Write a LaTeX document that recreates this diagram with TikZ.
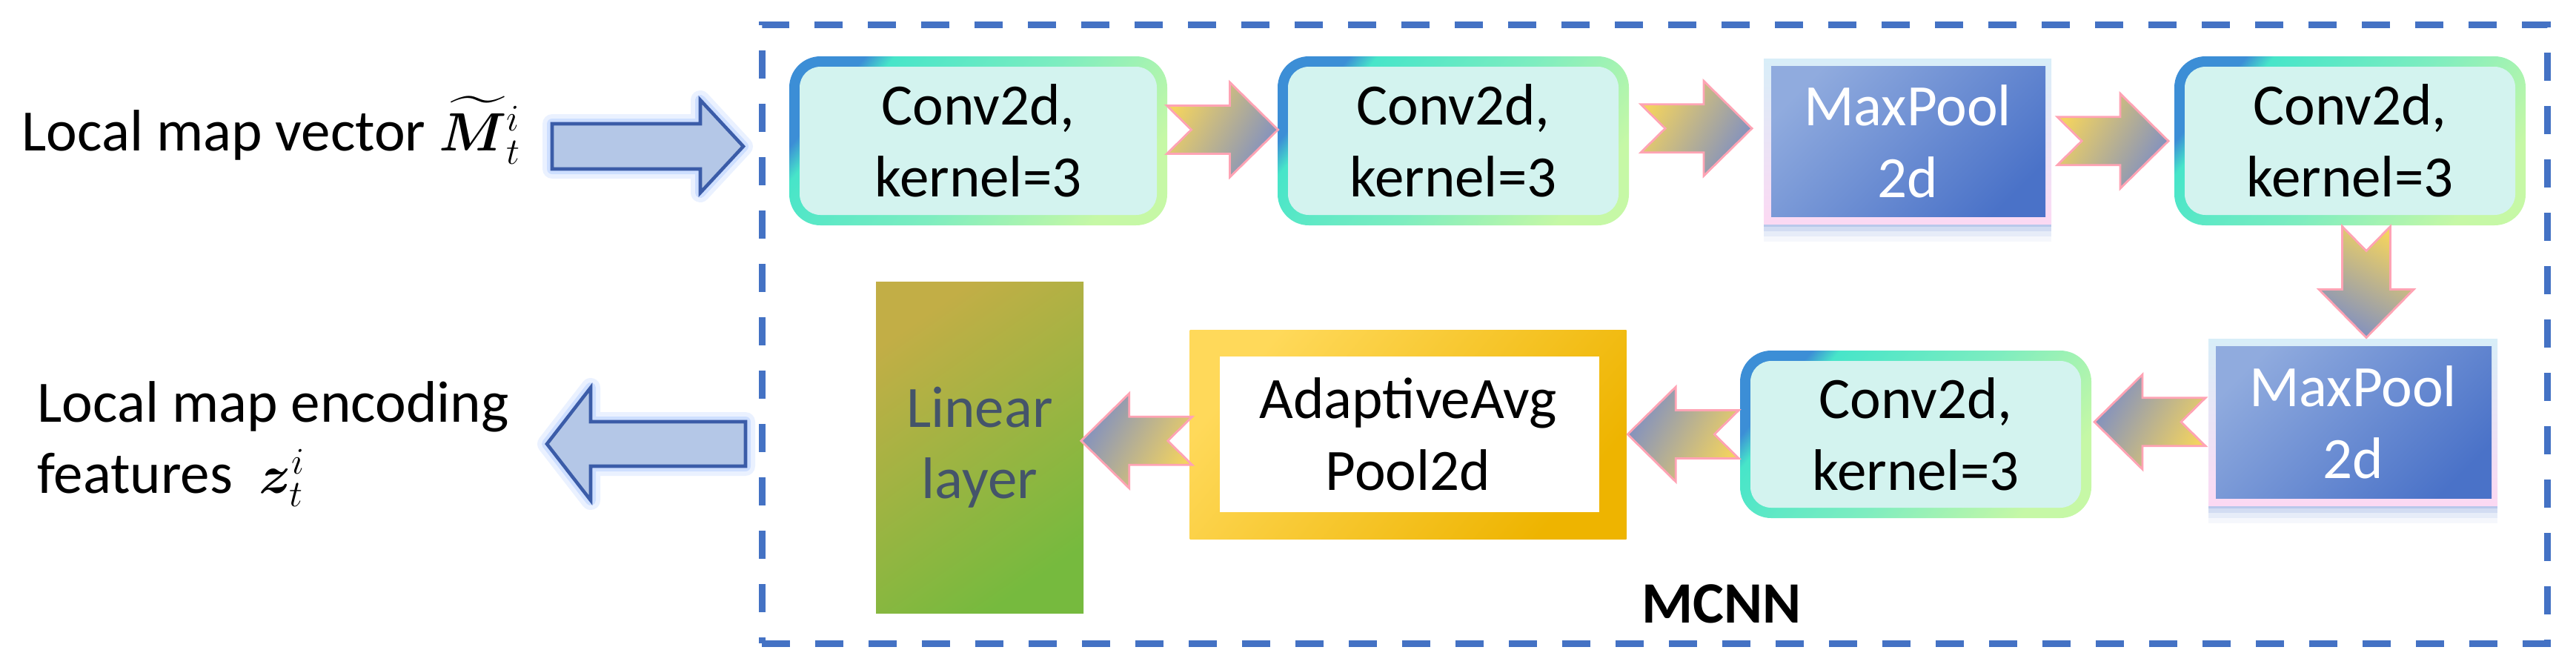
\documentclass[tikz,border=0pt]{standalone}
\usepackage{fontspec}
\setmainfont{Carlito}
\usepackage{amsmath,bm}
\usetikzlibrary{calc,shadows}

\definecolor{frameblue}{HTML}{4472C4}
\definecolor{convfill}{HTML}{D3F3EF}
\definecolor{rimblue}{HTML}{3C8ED6}
\definecolor{rimteal}{HTML}{47E5C9}
\definecolor{rimmid}{HTML}{7DEDC0}
\definecolor{rimgreen}{HTML}{C6F8A6}
\definecolor{flowyel}{HTML}{F3D35F}
\definecolor{flowblue}{HTML}{7F8FC2}
\definecolor{flowpink}{HTML}{FFA3B4}
\definecolor{mprimtop}{HTML}{D8EEF8}
\definecolor{mprimbot}{HTML}{FCD9F3}
\definecolor{mpin1}{HTML}{90ABDE}
\definecolor{mpin2}{HTML}{4A72C8}
\definecolor{mpshadow}{HTML}{7F9BDA}
\definecolor{adA}{HTML}{FFD95A}
\definecolor{adB}{HTML}{EEB400}
\definecolor{linA}{HTML}{C2AE46}
\definecolor{linB}{HTML}{76BA3E}
\definecolor{lintext}{HTML}{44546A}
\definecolor{bigfill}{HTML}{B4C7E7}
\definecolor{bigedge}{HTML}{3B5CA8}
\definecolor{glowblue}{HTML}{8DB3FF}

\pgfdeclarehorizontalshading{convrim}{100bp}{color(0bp)=(rimblue); color(25bp)=(rimblue); color(29bp)=(rimteal); color(52bp)=(rimmid); color(75bp)=(rimgreen); color(100bp)=(rimgreen)}

\tikzset{
  txt/.style={font=\fontsize{22.5}{27.5}\selectfont},
  convbox/.style={txt, align=center, inner sep=0pt, rounded corners=0.42cm,
    minimum width=4.74cm, minimum height=2.28cm, shading=convrim, shading angle=-40,
    path picture={\fill[convfill, rounded corners=0.28cm]
      ($(path picture bounding box.north west)+(0.14,-0.14)$) rectangle
      ($(path picture bounding box.south east)+(-0.14,0.14)$);}},
  mpbox/.style={txt, text=white, align=center, inner sep=0pt,
    minimum width=3.88cm, minimum height=2.23cm,
    drop shadow={shadow xshift=0cm, shadow yshift=-0.24cm, fill=mpshadow, opacity=0.08},
    drop shadow={shadow xshift=0cm, shadow yshift=-0.17cm, fill=mpshadow, opacity=0.12},
    drop shadow={shadow xshift=0cm, shadow yshift=-0.10cm, fill=mpshadow, opacity=0.2},
    drop shadow={shadow xshift=0cm, shadow yshift=-0.04cm, fill=mpshadow, opacity=0.3},
    top color=mprimtop, bottom color=mprimbot,
    path picture={\shade[top color=mpin1, bottom color=mpin2, shading angle=45]
      ($(path picture bounding box.north west)+(0.1,-0.1)$) rectangle
      ($(path picture bounding box.south east)+(-0.08,0.1)$);}},
  adbox/.style={txt, align=center, inner sep=0pt,
    minimum width=5.89cm, minimum height=2.82cm,
    top color=adA, bottom color=adB, shading angle=50,
    path picture={\fill[white]
      ($(path picture bounding box.north west)+(0.40,-0.36)$) rectangle
      ($(path picture bounding box.south east)+(-0.37,0.36)$);}},
  linbox/.style={txt, text=lintext, align=center, inner sep=0pt,
    minimum width=2.8cm, minimum height=4.47cm,
    top color=linA, bottom color=linB, shading angle=35},
  flow/.style={draw=flowpink, line width=0.8pt, top color=flowyel, bottom color=flowblue},
  bigarrow/.style={fill=bigfill, draw=bigedge, line width=1.3pt,
    preaction={draw=glowblue, draw opacity=0.18, line width=0.26cm, line join=round},
    preaction={draw=glowblue, draw opacity=0.3, line width=0.14cm, line join=round}},
  mcnnframe/.style={draw=frameblue, line width=0.09cm, dash pattern=on 0.38cm off 0.34cm,
    minimum width=24.09cm, minimum height=8.35cm, inner sep=0pt},
}

% notched block arrow halfway between two anchors, drawn in its own axes
\newcommand{\flowarrow}[4]{%
  \path[flow, #3, shading angle=#4] ($(#1)!0.5!(#2)$) ++(-0.75,0.325)
    -- ++(0.85,0) -- ++(0,0.315) -- ++(0.65,-0.64) -- ++(-0.65,-0.64)
    -- ++(0,0.315) -- ++(-0.85,0) -- ++(0.33,0.325) -- cycle;}

\begin{document}
\begin{tikzpicture}
  \useasboundingbox (0,0) rectangle (34.76,-9.03);

  % MCNN frame
  \node[mcnnframe] (mcnn) at (22.325,-4.505) {};
  \node[txt, font=\fontsize{22.5}{27.5}\selectfont\bfseries, anchor=base]
    (mcnnlabel) at (23.23,-8.40) {MCNN};

  % top row
  \node[convbox, minimum width=5.10cm] (conv1) at (13.20,-1.90) {Conv2d,\\kernel=3};
  \node[convbox] (conv2) at (19.61,-1.90) {Conv2d,\\kernel=3};
  \node[mpbox] (pool1) at (25.74,-1.905) {MaxPool\\2d};
  \node[convbox] (conv3) at (31.71,-1.90) {Conv2d,\\kernel=3};

  % bottom row
  \node[mpbox, minimum width=3.90cm, minimum height=2.25cm] (pool2) at (31.75,-5.695) {MaxPool\\2d};
  \node[convbox, minimum height=2.26cm] (conv4) at (25.85,-5.86) {Conv2d,\\kernel=3};
  \node[adbox] (adapt) at (19.00,-5.86) {AdaptiveAvg\\Pool2d};
  \node[linbox] (linear) at (13.22,-6.035) {Linear\\layer};

  % flow between the layers
  \flowarrow{[yshift=0.15cm]conv1.east}{[yshift=0.15cm]conv2.west}{x={(1cm,0)}}{60}
  \flowarrow{[yshift=0.17cm]conv2.east}{[yshift=0.17cm]pool1.west}{x={(1cm,0)}}{60}
  \flowarrow{pool1.east}{conv3.west}{x={(1cm,0)}}{60}
  \flowarrow{[xshift=0.22cm]conv3.south}{[xshift=0.18cm]pool2.north}{x={(0,-1cm)}, y={(1cm,0)}}{-30}
  \flowarrow{pool2.west}{[yshift=0.17cm]conv4.east}{x={(-1cm,0)}}{-120}
  \flowarrow{conv4.west}{adapt.east}{x={(-1cm,0)}}{-120}
  \flowarrow{adapt.west}{linear.east}{x={(-1cm,0)}}{-120}

  % input and output
  \node[txt, anchor=base west, inner sep=0pt] (inlabel)
    at (0.29,-2.03) {Local map vector {\fontsize{20}{22}\selectfont$\widetilde{\bm{M}}{}_t^i$}};
  \node[txt, anchor=west, align=left, inner sep=0pt]
    (outlabel) at (0.50,-5.99) {Local map encoding\\features\ \ {\fontsize{20}{22}\selectfont$\bm{z}_t^i$}};

  \coordinate (intail) at (7.45,-1.975);
  \coordinate (inhead) at (10.03,-1.975);
  \path[bigarrow] let \p1=(intail), \p2=(inhead) in
    (\x1,\y1+0.305cm) -- (\x2-0.58cm,\y1+0.305cm) -- (\x2-0.58cm,\y1+0.625cm)
    -- (\p2) -- (\x2-0.58cm,\y1-0.625cm) -- (\x2-0.58cm,\y1-0.305cm)
    -- (\x1,\y1-0.305cm) -- cycle;

  \coordinate (outtail) at (10.06,-5.99);
  \coordinate (outhead) at (7.38,-5.99);
  \path[bigarrow] let \p1=(outtail), \p2=(outhead) in
    (\x1,\y1+0.30cm) -- (\x2+0.59cm,\y1+0.30cm) -- (\x2+0.59cm,\y1+0.76cm)
    -- (\p2) -- (\x2+0.59cm,\y1-0.76cm) -- (\x2+0.59cm,\y1-0.30cm)
    -- (\x1,\y1-0.30cm) -- cycle;
\end{tikzpicture}
\end{document}
